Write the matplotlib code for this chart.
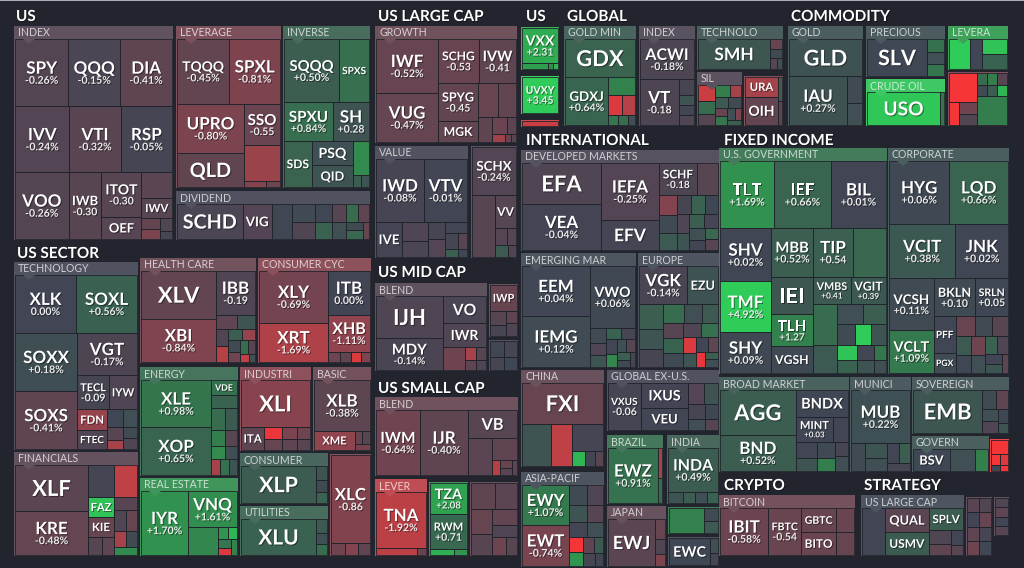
"""ETF heat map (finviz style) rebuilt with plain matplotlib rectangles."""

import matplotlib
matplotlib.use("Agg")
import matplotlib.pyplot as plt
import matplotlib.patheffects as pe
from matplotlib.patches import Rectangle, Polygon
from matplotlib.colors import to_rgb

# ---------------------------------------------------------------------------
# Data: (ticker, % change, weight, show change text).  "" = unlabeled small ETF
# ---------------------------------------------------------------------------
US_INDEX = [("SPY", -0.26, 36, True), ("QQQ", -0.15, 35, True), ("DIA", -0.41, 35, True),
            ("IVV", -0.24, 36, True), ("VTI", -0.32, 34, True), ("RSP", -0.05, 34, True),
            ("VOO", -0.26, 36, True), ("IWB", -0.30, 22, True), ("ITOT", -0.30, 18, True),
            ("OEF", -0.28, 9), ("", -0.35, 8), ("IWV", -0.30, 6),
            ("", -0.45, 2.2), ("", -0.8, 1.8), ("", -0.2, 1.5), ("", -0.05, 1.0)]
US_LEVERAGE = [("TQQQ", -0.45, 34, True), ("SPXL", -0.81, 33, True), ("UPRO", -0.80, 33, True),
               ("QLD", -0.42, 23), ("SSO", -0.55, 15, True), ("", -1.3, 13), ("", -0.9, 1.2),
               ("", -0.6, 0.8)]
US_INVERSE = [("SQQQ", 0.50, 35, True), ("SPXS", 0.85, 19), ("SPXU", 0.84, 19, True),
              ("SH", 0.28, 14, True), ("SDS", 0.62, 13), ("PSQ", 0.22, 10), ("QID", 0.30, 9),
              ("", 1.5, 5.5), ("", 0.5, 1), ("", 0.3, 1)]
US_DIVIDEND = [("SCHD", -0.15, 23), ("VIG", -0.25, 10), ("", 0.05, 7), ("", 0.1, 4),
               ("", -0.2, 4), ("", 0.02, 3), ("", 0.6, 3), ("", -0.3, 2.5), ("", 0.2, 2.5),
               ("", 0.8, 2), ("", -0.4, 2), ("", 0.1, 1.5), ("", 0.7, 1.5), ("", -0.5, 1)]

LC_GROWTH = [("IWF", -0.52, 33.5, True), ("VUG", -0.47, 30.5, True), ("SCHG", -0.53, 18, True),
             ("IVW", -0.41, 16.3, True), ("SPYG", -0.45, 15.2, True), ("MGK", -0.45, 8.4),
             ("", -0.5, 7), ("", -0.45, 6), ("", -0.4, 3.5), ("", -0.55, 2.5),
             ("", -0.35, 1.5), ("", -1.4, 1), ("", -0.5, 0.5), ("", -0.3, 0.4)]
LC_VALUE = [("IWD", -0.08, 29.8, True), ("VTV", -0.01, 26.7, True), ("IVE", -0.03, 9.1),
            ("", -0.2, 5), ("", -0.15, 4), ("", -0.1, 3), ("", -0.25, 3), ("", 0.0, 2.5),
            ("", -0.05, 2), ("", -0.3, 1.5), ("", 0.5, 1), ("", 0.05, 0.7)]
LC_BLEND = [("SCHX", -0.24, 21, True), ("", -0.3, 14.3), ("VV", -0.28, 7), ("", -0.25, 2),
            ("", -0.3, 1.5), ("", 0.4, 1.5), ("", -0.2, 1)]

VOL_VXX = [("VXX", 2.31, 12.2, True), ("", 2.0, 1.5), ("", 1.5, 0.3), ("", 2.5, 0.3)]
VOL_UVXY = [("UVXY", 3.45, 13.7, True)]
VOL_OTHER = [("", -2.2, 1)]

GL_GOLDMIN = [("GDX", 0.62, 26.6), ("GDXJ", 0.64, 20.2, True), ("", 1.3, 4.6), ("", -2.5, 2.8),
              ("", -1.8, 2.6), ("", 1.0, 1), ("", 0.8, 1), ("", 0.2, 0.7)]
GL_INDEX = [("ACWI", -0.18, 22.4, True), ("VT", -0.18, 18, True), ("", -0.1, 2.4),
            ("", 0.3, 1.6), ("", 0.0, 1.6), ("", -0.2, 1.6)]
GL_TECH = [("SMH", 0.35, 20.9), ("", -0.5, 1.2), ("", 0.1, 1), ("", -0.3, 0.8), ("", 0.2, 0.5)]
GL_SIL = [("", -2.2, 3), ("", 0.8, 2.5), ("", -0.3, 2), ("", 1.2, 2), ("", -1.5, 1.5),
          ("", 0.4, 1.5), ("", 0.1, 1.5), ("", -0.5, 1.2), ("", 1.0, 1.2), ("", 0.2, 1),
          ("", -0.8, 0.8), ("", 0.5, 0.8)]
GL_URA = [("URA", -1.5, 6.6), ("OIH", -0.45, 9.6), ("", 0.5, 1), ("", -0.3, 1)]

CM_GOLD = [("GLD", 0.25, 27), ("IAU", 0.27, 27.8, True), ("", 0.1, 4), ("", 0.2, 3.2)]
CM_PRECIOUS = [("SLV", 0.05, 21.6), ("", 0.9, 2.2), ("", 0.2, 2), ("", 1.0, 1.9)]
CM_CRUDE = [("USO", 2.9, 22.6), ("", 1.0, 1.2)]
CM_LEVER = [("", 3.2, 6), ("", 0.05, 3.2), ("", 2.8, 3.4), ("", 0.6, 3.6)]
CM_OTHER = [("", -3.5, 8.7), ("", -3.0, 2.3), ("", -0.6, 2.3), ("", -0.2, 2.1),
            ("", 0.8, 1.2), ("", 0.1, 1.2), ("", 1.2, 1.2), ("", -0.3, 1.2), ("", 0.5, 1.2),
            ("", 2.5, 1.2), ("", 1.2, 9)]

IN_DEV = [("EFA", -0.20, 32.4), ("VEA", -0.04, 36.3, True), ("IEFA", -0.25, 33, True),
          ("EFV", -0.05, 17.4), ("SCHF", -0.18, 12.2, True), ("", -0.3, 6.7),
          ("", -0.9, 3.5), ("", 0.1, 3.2), ("", 0.4, 3.0), ("", -0.1, 2.8), ("", 0.6, 2.6),
          ("", 0.05, 2.5), ("", -0.2, 2.4), ("", 0.3, 2.2), ("", 0.5, 2.0), ("", -0.05, 2.0),
          ("", 0.2, 1.8), ("", 0.0, 1.6), ("", 0.7, 1.5), ("", -0.3, 1.4)]
IN_EM = [("EEM", 0.04, 34.7, True), ("IEMG", 0.12, 35.4, True), ("VWO", 0.06, 28.4, True),
         ("", 0.1, 2.5), ("", -0.2, 2), ("", 0.3, 2), ("", 0.6, 1.8), ("", -0.1, 1.6),
         ("", 0.0, 1.5), ("", 1.4, 1.4), ("", 0.2, 1.2), ("", -0.3, 1.2), ("", 0.5, 1),
         ("", 0.1, 1), ("", -0.1, 0.8)]
IN_EUROPE = [("VGK", -0.14, 19.1, True), ("EZU", 0.25, 12.1), ("", 0.5, 6), ("", 0.3, 5),
             ("", -0.1, 4.5), ("", 0.8, 4), ("", 0.2, 3.5), ("", 0.4, 3.2), ("", -0.3, 3),
             ("", 0.6, 3), ("", 0.1, 2.8), ("", -0.2, 2.6), ("", 0.9, 2.4), ("", -2.5, 2.2),
             ("", 0.3, 2), ("", 0.0, 1.8), ("", -0.4, 1.6), ("", -2.8, 1.4), ("", 0.5, 1),
             ("", 0.2, 1)]
IN_CHINA = [("FXI", -0.50, 33.2), ("", 0.3, 12.5), ("", -2.0, 8.8), ("", -0.05, 8.7),
            ("", 2.5, 1.9), ("", 0.0, 1.5), ("", -0.3, 1.2)]
IN_ASIA = [("EWY", 1.07, 18.8, True), ("EWT", -0.74, 19.3, True), ("", 0.1, 3.5),
           ("", -0.2, 3.2), ("", 0.3, 3), ("", -0.3, 2.8), ("", 0.0, 2.6), ("", 0.2, 2.4),
           ("", -3.0, 2.2), ("", 1.8, 2), ("", -0.4, 1.8), ("", 0.4, 1.5), ("", -0.1, 1.5),
           ("", 0.0, 1)]
IN_EXUS = [("VXUS", -0.06, 15.8, True), ("IXUS", -0.03, 11.8), ("VEU", -0.02, 10.8),
           ("", -0.25, 3.5), ("", 0.3, 3), ("", -0.1, 2.5), ("", 0.2, 2), ("", 0.05, 2),
           ("", -0.3, 1.4)]
IN_BRAZIL = [("EWZ", 0.91, 27, True), ("", -1.5, 1.2), ("", 0.8, 1)]
IN_INDIA = [("INDA", 0.49, 21.5, True), ("", 0.3, 1.6), ("", 0.5, 1.4), ("", 0.2, 1.3),
            ("", 0.6, 1.2)]
IN_JAPAN = [("EWJ", -0.35, 22), ("", -0.5, 2), ("", -0.2, 1.5), ("", -0.8, 1.2)]
IN_OTHER_A = [("", 1.3, 7.5), ("", 0.1, 1.6), ("", 0.4, 1.4)]
IN_OTHER_B = [("EWC", 0.05, 11.4), ("", 0.2, 1.2), ("", -0.1, 1.0)]

FI_GOV = [("TLT", 1.69, 36.2, True), ("IEF", 0.66, 38.2, True), ("BIL", 0.01, 36.9, True),
          ("SHV", 0.02, 27.5, True), ("TMF", 4.92, 26, True), ("SHY", 0.09, 20.9, True),
          ("MBB", 0.52, 20.6, True), ("TIP", 0.54, 19.6, True), ("", 0.7, 16.2),
          ("IEI", 0.35, 16), ("TLH", 1.27, 13.4, True), ("VGSH", 0.06, 11.3),
          ("VMBS", 0.41, 10.6, True), ("VGIT", 0.39, 9.8, True),
          ("", 0.8, 9.8), ("", 0.4, 6.6), ("", 0.2, 5), ("", 0.5, 4.5), ("", 0.1, 4),
          ("", 3.2, 3.5), ("", 0.3, 3.2), ("", 2.8, 3), ("", 0.6, 2.8), ("", 0.0, 2.5),
          ("", 0.3, 2.2), ("", 1.0, 1.8), ("", 0.2, 1.5)]
FI_CORP = [("HYG", 0.06, 38.4, True), ("LQD", 0.66, 37.2, True), ("VCIT", 0.38, 36.9, True),
           ("JNK", 0.02, 29.2, True), ("VCSH", 0.11, 23.4, True), ("VCLT", 1.09, 19.4, True),
           ("BKLN", 0.10, 16, True), ("SRLN", 0.05, 12.5, True), ("PFF", 0.02, 8.1),
           ("PGX", 0.15, 4.5), ("", -0.5, 4), ("", 0.1, 3.5), ("", -0.3, 3.2), ("", 0.4, 3),
           ("", 0.05, 2.8), ("", -0.6, 2.6), ("", 0.2, 2.4), ("", 0.6, 2.2), ("", -0.2, 2),
           ("", 0.0, 1.8), ("", 0.3, 1.5), ("", -0.4, 1.2)]
FI_BROAD = [("AGG", 0.50, 35.7), ("BND", 0.52, 28.9, True), ("BNDX", 0.05, 14.6),
            ("MINT", 0.03, 10, True), ("", 0.0, 4), ("", 0.0, 3.5), ("", 0.3, 3),
            ("", 0.1, 3), ("", 1.2, 2.5), ("", -0.1, 2), ("", 0.2, 2)]
FI_MUNI = [("MUB", 0.22, 33, True), ("", 0.1, 4), ("", 0.3, 3.5), ("", 0.2, 3),
           ("", 0.0, 2.5), ("", 0.5, 2.2), ("", -0.1, 1.8)]
FI_SOV = [("EMB", 0.35, 32.4), ("", 0.1, 3), ("", -0.4, 2.5), ("", 0.2, 2), ("", -0.2, 2),
          ("", 0.05, 1.5), ("", 0.3, 1.2)]
FI_GOVERN = [("BSV", 0.05, 8.1), ("", 0.2, 5.5), ("", 1.2, 2.9)]
FI_OTHER = [("", -3.5, 2.3), ("", -3.0, 0.9), ("", -2.5, 0.9), ("", 0.0, 0.5), ("", -3.0, 0.5)]

CR_BITCOIN = [("IBIT", -0.58, 22.6, True), ("FBTC", -0.54, 15.5, True), ("GBTC", -0.50, 8.4),
              ("BITO", -0.55, 8), ("", -0.55, 4.3), ("", -0.5, 4.1)]
ST_LARGE = [("", 0.0, 10.8), ("QUAL", -0.35, 10.6), ("USMV", 0.45, 10.1), ("SPLV", 0.45, 7.5),
            ("", -0.2, 3), ("", -0.4, 2.5), ("", 0.0, 1.8), ("", -0.3, 1.2)]
ST_OTHER_A = [("", -0.3, 1.8), ("", -0.2, 1.8), ("", 0.0, 1.8), ("", -0.5, 1.8),
              ("", -0.4, 1.8), ("", -0.1, 1.8), ("", -0.6, 1.8), ("", 0.05, 1.8)]
ST_OTHER_B = [("", -0.2, 1), ("", -0.4, 1), ("", 0.0, 1), ("", -0.3, 1)]

SC_TECH = [("XLK", 0.00, 35.4, True), ("SOXL", 0.56, 35.4, True), ("SOXX", 0.18, 36.6, True),
           ("SOXS", -0.41, 36, True), ("VGT", -0.17, 25.8, True), ("TECL", -0.09, 10.9, True),
           ("IYW", -0.2, 9.5), ("FDN", -1.2, 6.3), ("FTEC", -0.2, 5.7), ("", 0.05, 3),
           ("", 0.2, 2.5), ("", -0.3, 2), ("", -1.5, 1.5), ("", 0.1, 1.5), ("", -0.2, 1.5)]
SC_FIN = [("XLF", -0.35, 33.6), ("KRE", -0.48, 32.1, True), ("", -0.05, 8.3), ("", -2.0, 7.4),
          ("FAZ", 2.8, 5.2), ("KIE", -0.5, 5.2), ("", -0.3, 2.5), ("", -0.4, 2.2),
          ("", -0.3, 3), ("", -0.2, 2.5), ("", -0.5, 2.2), ("", -1.5, 2), ("", 0.1, 1.8),
          ("", 1.5, 1.8)]
SC_HEALTH = [("XLV", -0.45, 35.3), ("XBI", -0.84, 32.3, True), ("IBB", -0.19, 16.8, True),
             ("", -0.4, 3), ("", 0.3, 2.5), ("", -0.2, 2), ("", -1.8, 1.8), ("", 0.5, 1.6),
             ("", -1.2, 1.5), ("", 0.1, 1.4), ("", -0.6, 1.2), ("", 0.8, 1.1), ("", -0.3, 1),
             ("", -2.0, 0.7), ("", 0.2, 0.5)]
SC_CYC = [("XLY", -0.69, 35.2, True), ("XRT", -1.69, 26.9, True), ("ITB", 0.00, 18.1, True),
          ("XHB", -1.11, 15.5, True), ("", -0.6, 1.2), ("", -0.4, 1.1), ("", -2.5, 1),
          ("", -0.8, 0.9)]
SC_ENERGY = [("XLE", 0.98, 32.9, True), ("XOP", 0.65, 33.6, True), ("VDE", 0.9, 3.9),
             ("", 0.6, 3.5), ("", 0.8, 3), ("", 0.4, 2.5), ("", 1.2, 2.2), ("", -0.3, 2),
             ("", 1.5, 1.8), ("", 0.2, 1.6), ("", -1.5, 1.5), ("", 0.9, 1.4), ("", 0.3, 1.3)]
SC_REAL = [("IYR", 1.70, 30.6, True), ("VNQ", 1.61, 18.1, True), ("", 1.4, 8.4),
           ("", 1.8, 1.2), ("", 2.5, 1.1), ("", 1.0, 1.1), ("", -2.5, 1), ("", 1.3, 0.9)]
SC_IND = [("XLI", -0.95, 32.4), ("ITA", -0.4, 5.3), ("", -2.8, 2.2), ("", -0.5, 2),
          ("", -0.8, 1.8), ("", -0.4, 1.6), ("", -0.6, 1.6), ("", -0.3, 1.4)]
SC_BASIC = [("XLB", -0.38, 28.6, True), ("XME", -1.1, 7.8), ("", -0.5, 1), ("", -0.3, 1),
            ("", -0.7, 0.9)]
SC_STAPLES = [("XLP", 0.45, 27.8), ("", 0.3, 1.5), ("", 0.1, 1.3), ("", 0.6, 1.2)]
SC_UTIL = [("XLU", 0.60, 27), ("", 0.4, 1.5), ("", 0.2, 1.3), ("", 0.8, 1.2)]
SC_COMM = [("XLC", -0.86, 36.9, True), ("", -0.6, 1.8), ("", -0.9, 1.6), ("", -0.4, 1.5)]

MID_BLEND = [("IJH", -0.20, 28.1), ("MDY", -0.14, 21.4, True), ("VO", -0.15, 11.6),
             ("IWR", -0.20, 10.3), ("", -0.6, 5), ("", -1.5, 1.5), ("", -0.3, 1.3),
             ("", -0.4, 1.1), ("", -0.2, 1.0)]
MID_IWP = [("IWP", -0.5, 5.8), ("", -0.3, 1.8), ("", -0.1, 1.5), ("", -0.4, 1.2), ("", -0.2, 1.2)]
MID_OTHER = [("", 0.0, 2.5), ("", -0.05, 2.5), ("", -0.1, 2), ("", 0.05, 2)]
SM_BLEND = [("IWM", -0.64, 28.6, True), ("IJR", -0.40, 31.2, True), ("VB", -0.30, 13.7),
            ("", -0.35, 8.9), ("", -0.4, 5.5), ("", -1.8, 1.2), ("", -0.5, 0.9),
            ("", -0.3, 0.8), ("", -0.4, 0.8)]
SM_LEVER = [("TNA", -1.92, 28, True), ("", -1.9, 2.9), ("", -0.5, 0.6)]
SM_TZA = [("TZA", 2.08, 12.2, True), ("RWM", 0.71, 13.7, True), ("", 2.4, 1.5), ("", 1.8, 0.8)]
SM_OTHER = [("", -0.4, 5), ("", -0.35, 4.5), ("", -0.5, 4), ("", -0.3, 3.5), ("", -0.45, 3),
            ("", -0.2, 2.5), ("", -0.6, 2), ("", -0.3, 1.5)]

# section titles (text, x, baseline y) in pixel space
SECTIONS = [("US", 16, 21), ("US LARGE CAP", 378, 21), ("US", 526, 21), ("GLOBAL", 567, 21),
            ("COMMODITY", 791, 21), ("INTERNATIONAL", 526, 145), ("FIXED INCOME", 724, 145),
            ("US SECTOR", 17, 258), ("US MID CAP", 378, 277), ("US SMALL CAP", 378, 393),
            ("CRYPTO", 724, 490), ("STRATEGY", 864, 490)]

# group frame (x0, y0, x1, y1), header text, split layout
# layout: ["h"|"v", child, ...]; an int n = next n ETFs laid out squarified
GROUPS = [
    (US_INDEX, (14, 26, 173, 240), "INDEX",
     ["v", ["h", 1, 1, 1], ["h", 1, 1, 1], ["h", 1, 1, ["v", 1, 1], ["v", 1, 1, 4]]]),
    (US_LEVERAGE, (176, 26, 281, 188), "LEVERAGE",
     ["v", ["h", 1, 1], ["h", ["v", 1, 1], ["v", 1, 1, ["h", 1, 1]]]]),
    (US_INVERSE, (283, 26, 370, 188), "INVERSE",
     ["v", ["h", 1, 1], ["h", 1, 1], ["h", 1, ["v", 1, 1], ["v", 1, ["h", 1, 1]]]]),
    (US_DIVIDEND, (176, 191, 370, 240), "DIVIDEND", ["h", 1, 1, 12]),
    (LC_GROWTH, (375, 26, 517, 143), "GROWTH",
     ["h", ["v", 1, 1], ["v", ["h", 1, 1], ["h", ["v", 1, 1], 8]]]),
    (LC_VALUE, (375, 146, 468, 258), "VALUE", ["v", ["h", 1, 1], ["h", 1, 9]]),
    (LC_BLEND, (471, 146, 517, 258), None, ["v", 1, ["h", 1, ["v", 1, 4]]]),
    (VOL_VXX, (521, 27, 559, 70), None, ["v", 1, ["h", 1, 1, 1]]),
    (VOL_UVXY, (521, 76, 559, 114), None, ["v", 1]),
    (VOL_OTHER, (521, 120, 559, 127), None, ["v", 1]),
    (GL_GOLDMIN, (564, 26, 636, 126), "GOLD MIN",
     ["v", 1, ["h", 1, ["v", 1, ["h", 1, 1], ["h", 1, 1, 1]]]]),
    (GL_INDEX, (639, 26, 695, 126), "INDEX", ["v", 1, ["h", 1, 4]]),
    (GL_TECH, (697, 26, 783, 70), "TECHNOLO", ["h", 1, 4]),
    (GL_SIL, (697, 72, 742, 126), "SIL", ["v", 12]),
    (GL_URA, (744, 76, 783, 126), None, ["h", ["v", 1, 1], ["v", 1, 1]]),
    (CM_GOLD, (788, 26, 863, 126), "GOLD", ["v", 1, ["h", 1, ["v", 1, 1]]]),
    (CM_PRECIOUS, (866, 26, 945, 77), "PRECIOUS", ["h", 1, ["v", 1, 1, 1]]),
    (CM_CRUDE, (866, 79, 945, 126), "CRUDE OIL", ["h", 1, 1]),
    (CM_LEVER, (948, 26, 1008, 70), "LEVERA", ["h", 1, 1, ["v", 1, 1]]),
    (CM_OTHER, (948, 72, 1008, 126), None, ["h", ["v", 1, ["h", 1, ["v", 1, 1]]], ["v", 6, 1]]),
    (IN_DEV, (521, 150, 719, 251), "DEVELOPED MARKETS",
     ["h", ["v", 1, 1], ["v", 1, 1], ["v", ["h", 1, 1], 14]]),
    (IN_EM, (521, 253, 636, 368), "EMERGING MAR", ["h", ["v", 1, 1], ["v", 1, 12]]),
    (IN_EUROPE, (638, 253, 719, 368), "EUROPE", ["v", ["h", 1, 1], 18]),
    (IN_CHINA, (521, 370, 604, 467), "CHINA", ["v", 1, ["h", 1, 1, ["v", 1, ["h", 1, 1, 1]]]]),
    (IN_ASIA, (521, 472, 604, 567), "ASIA-PACIF", ["h", ["v", 1, 1], 12]),
    (IN_EXUS, (607, 370, 719, 431), "GLOBAL EX-U.S.", ["h", 1, ["v", 1, 1], 6]),
    (IN_BRAZIL, (607, 435, 663, 504), "BRAZIL", ["h", 1, ["v", 1, 1]]),
    (IN_INDIA, (667, 435, 719, 504), "INDIA", ["v", 1, 4]),
    (IN_JAPAN, (607, 506, 666, 567), "JAPAN", ["h", 1, 3]),
    (IN_OTHER_A, (668, 507, 719, 534), None, ["h", 1, ["v", 1, 1]]),
    (IN_OTHER_B, (668, 537, 719, 566), None, ["h", 1, ["v", 1, 1]]),
    (FI_GOV, (719, 148, 887, 374), "U.S. GOVERNMENT",
     ["v", ["h", 1, 1, 1], ["h", ["v", 1, 1, 1],
                            ["v", ["h", 1, 1, 1], ["h", ["v", 1, 1, 1], ["v", ["h", 1, 1], 13]]]]]),
    (FI_CORP, (888, 148, 1009, 374), "CORPORATE",
     ["v", ["h", 1, 1], ["h", 1, 1], ["h", ["v", 1, 1], ["v", ["h", 1, 1], 14]]]),
    (FI_BROAD, (719, 377, 849, 472), "BROAD MARKET", ["h", ["v", 1, 1], ["v", 1, ["h", 1, 1], 6]]),
    (FI_MUNI, (850, 377, 911, 472), "MUNICI", ["v", 1, 6]),
    (FI_SOV, (912, 377, 1009, 434), "SOVEREIGN", ["h", 1, 6]),
    (FI_GOVERN, (912, 436, 989, 472), "GOVERN", ["h", 1, 1, 1]),
    (FI_OTHER, (990, 439, 1009, 472), None, ["v", 1, 4]),
    (CR_BITCOIN, (719, 495, 855, 556), "BITCOIN", ["h", 1, 1, ["v", 1, 1], ["v", 1, 1]]),
    (ST_LARGE, (861, 495, 964, 556), "US LARGE CAP", ["h", 1, ["v", 1, 1], ["v", 1, 4]]),
    (ST_OTHER_A, (966, 497, 992, 556), None, ["v", 8]),
    (ST_OTHER_B, (994, 497, 1009, 536), None, ["v", 4]),
    (SC_TECH, (14, 262, 138, 450), "TECHNOLOGY",
     ["v", ["h", 1, 1], ["h", ["v", 1, 1], ["v", 1, ["h", 1, 1], ["h", ["v", 1, 1], 6]]]]),
    (SC_FIN, (14, 452, 138, 556), "FINANCIALS",
     ["h", ["v", 1, 1], ["v", ["h", 1, 1], ["h", ["v", 1, 1, ["h", 1, 1]], 6]]]),
    (SC_HEALTH, (140, 258, 256, 363), "HEALTH CARE", ["h", ["v", 1, 1], ["v", 1, 12]]),
    (SC_CYC, (258, 258, 371, 363), "CONSUMER CYC", ["h", ["v", 1, 1], ["v", 1, 1, 4]]),
    (SC_ENERGY, (140, 367, 238, 476), "ENERGY", ["h", ["v", 1, 1], ["v", 1, 10]]),
    (SC_REAL, (140, 478, 238, 556), "REAL ESTATE", ["h", 1, ["v", 1, ["h", 1, 5]]]),
    (SC_IND, (240, 367, 311, 451), "INDUSTRI", ["v", 1, ["h", 1, 6]]),
    (SC_BASIC, (313, 367, 371, 451), "BASIC", ["v", 1, ["h", 1, 3]]),
    (SC_STAPLES, (240, 453, 328, 504), "CONSUMER", ["h", 1, 3]),
    (SC_UTIL, (240, 506, 328, 556), "UTILITIES", ["h", 1, 3]),
    (SC_COMM, (330, 454, 371, 556), None, ["v", 1, 3]),
    (MID_BLEND, (375, 283, 487, 371), "BLEND", ["h", ["v", 1, 1], ["v", 1, 1, ["h", 1, 4]]]),
    (MID_IWP, (489, 284, 518, 337), None, ["v", 1, 4]),
    (MID_OTHER, (489, 340, 518, 371), None, ["v", 4]),
    (SM_BLEND, (375, 397, 518, 476), "BLEND", ["h", 1, 1, ["v", 1, ["h", 1, ["v", 1, 4]]]]),
    (SM_LEVER, (375, 479, 427, 556), "LEVER", ["v", 1, ["h", 1, 1]]),
    (SM_TZA, (429, 482, 468, 556), None, ["v", 1, 1, ["h", 1, 1]]),
    (SM_OTHER, (470, 482, 518, 556), None, ["v", 8]),
]

BG = "#22252d"
SCALE_X = [-3, -2, -1, 0, 1, 2, 3]
SCALE_C = [to_rgb(c) for c in ["#f63538", "#bf4045", "#8b444e", "#414554",
                               "#35764e", "#2f9e4f", "#30cc5a"]]
HEADER_H = 13


def chg_color(c):
    c = max(-3.0, min(3.0, c))
    for i in range(len(SCALE_X) - 1):
        if c <= SCALE_X[i + 1]:
            t = (c - SCALE_X[i]) / (SCALE_X[i + 1] - SCALE_X[i])
            a, b = SCALE_C[i], SCALE_C[i + 1]
            return tuple(a[k] + (b[k] - a[k]) * t for k in range(3))
    return SCALE_C[-1]


def worst(row, side):
    s = sum(row)
    return max(max(side * side * r / (s * s), s * s / (side * side * r)) for r in row)


def squarify(vals, x, y, w, h):
    total = sum(vals)
    vals = [v * w * h / total for v in vals]
    rects = []
    while vals:
        side = min(w, h)
        row = [vals[0]]
        i = 1
        while i < len(vals) and worst(row + [vals[i]], side) <= worst(row, side):
            row.append(vals[i])
            i += 1
        s = sum(row)
        if w >= h:
            cw = s / h
            yy = y
            for v in row:
                rects.append((x, yy, cw, v / cw))
                yy += v / cw
            x += cw
            w -= cw
        else:
            rh = s / w
            xx = x
            for v in row:
                rects.append((xx, y, v / rh, rh))
                xx += v / rh
            y += rh
            h -= rh
        vals = vals[i:]
    return rects


def build(node, items, i=0):
    kids = []
    for ch in node[1:]:
        if isinstance(ch, int):
            kids.append(("sq", items[i:i + ch]))
            i += ch
        else:
            sub, i = build(ch, items, i)
            kids.append(sub)
    return (node[0], kids), i


def total(t):
    if t[0] == "sq":
        return sum(it[2] for it in t[1])
    return sum(total(k) for k in t[1])


def place(t, x, y, w, h, out):
    if t[0] == "sq":
        out.extend(zip(t[1], squarify([it[2] for it in t[1]], x, y, w, h)))
        return
    tot = total(t)
    for k in t[1]:
        f = total(k) / tot
        if t[0] == "h":
            place(k, x, y, w * f, h, out)
            x += w * f
        else:
            place(k, x, y, w, h * f, out)
            y += h * f


fig = plt.figure(figsize=(10.24, 5.68), dpi=100)
fig.patch.set_facecolor(BG)
ax = fig.add_axes([0, 0, 1, 1])
ax.set_xlim(0, 1024)
ax.set_ylim(568, 0)
ax.axis("off")
renderer = fig.canvas.get_renderer()

FONT = "Lato"
SHADOW = [pe.withSimplePatchShadow(offset=(0.7, -0.7), shadow_rgbFace="black", alpha=0.45)]


def fit(txt, px, avail):
    # px is font size in pixels (dpi 100 -> pt = px * 0.72)
    txt.set_fontsize(px * 0.72)
    wpx = txt.get_window_extent(renderer).width
    if wpx > avail:
        px *= avail / wpx
        txt.set_fontsize(px * 0.72)
    return px


def draw_label(x, y, w, h, name, chg, show):
    cx, cy = x + w / 2, y + h / 2
    pad = max(2.0, min(6.0, 0.1 * w))
    t1 = ax.text(cx, cy, name, ha="center", va="baseline", color="white",
                 fontfamily=FONT, fontweight="bold", path_effects=SHADOW, zorder=5)
    if show:
        f1 = fit(t1, min(17.0, (h - 6) / 1.75), w - 2 * pad)
        s = "0.00" if abs(chg) < 0.005 else f"{chg:+.2f}"
        if w >= 42:
            s += "%"
        t2 = ax.text(cx, cy, s, ha="center", va="baseline", color="#ececec",
                     fontfamily=FONT, fontweight="bold", path_effects=SHADOW, zorder=5)
        f2 = fit(t2, min(10.5, max(8.0, (h - 6) / 2.6)), w - 3)
        cap1, cap2 = 0.72 * f1, 0.72 * f2
        block = cap1 + 2.5 + cap2
        top = cy - block / 2
        t1.set_y(top + cap1)
        t2.set_y(top + block)
    else:
        f1 = fit(t1, min(22.0, 0.58 * h), w - 2 * pad)
        t1.set_y(cy + 0.72 * f1 / 2)


for items, (x0, y0, x1, y1), header, layout in GROUPS:
    items = [it if len(it) == 4 else (it[0], it[1], it[2], False) for it in items]
    avg = sum(it[1] * it[2] for it in items) / sum(it[2] for it in items)
    hc = tuple(v + (1 - v) * 0.07 for v in chg_color(avg))
    ax.add_patch(Rectangle((x0, y0), x1 - x0, y1 - y0, facecolor=hc, edgecolor="none", zorder=1))
    top = y0 + (HEADER_H if header else 1)
    tree, _ = build(layout, items)
    out = []
    place(tree, x0 + 1, top, x1 - x0 - 2, y1 - top - 1, out)
    for (name, chg, wgt, show), (rx, ry, rw, rh) in out:
        ax.add_patch(Rectangle((rx, ry), rw, rh, facecolor=chg_color(chg), edgecolor="none",
                               linewidth=0.0, zorder=2))
        ax.add_patch(Rectangle((rx, ry), rw, rh, facecolor="none",
                               edgecolor=(0.13, 0.14, 0.17, 0.85), linewidth=0.7, zorder=3))
        if name:
            draw_label(rx, ry, rw, rh, name, chg, show)
    if header:
        ax.text(x0 + 4, y0 + HEADER_H / 2 + 0.5, header, ha="left", va="center",
                color=(1, 1, 1, 0.72), fontsize=7.6, fontfamily=FONT, zorder=6,
                clip_on=True)
        ax.add_patch(Polygon([(x0 + 9, top), (x0 + 21, top), (x0 + 15, top + 5)],
                             closed=True, facecolor=hc, edgecolor="none", zorder=4))

for text, x, y in SECTIONS:
    ax.text(x, y, text, ha="left", va="baseline", color="white", fontsize=11,
            fontfamily=FONT, fontweight="bold", path_effects=SHADOW, zorder=6)

# thin light edge along the very top of the screenshot
ax.add_patch(Rectangle((0, 0), 1024, 1.2, facecolor="#a9acb3", edgecolor="none", zorder=7))

fig.savefig("out.png", dpi=100, facecolor=BG)
